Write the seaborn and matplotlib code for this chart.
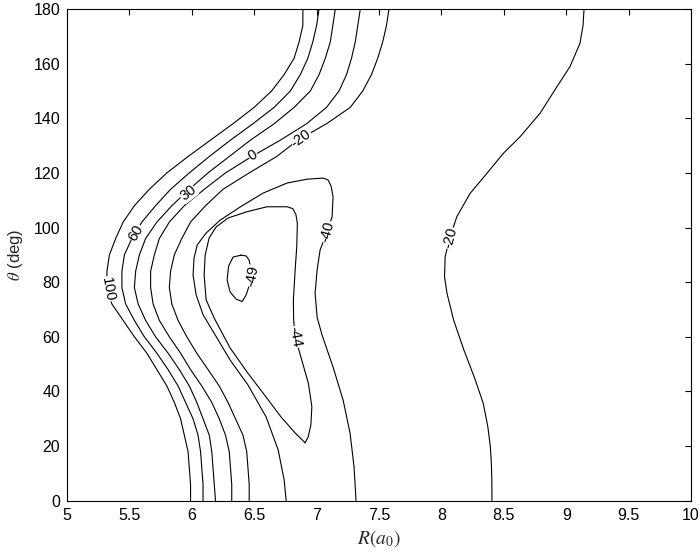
import matplotlib
matplotlib.use("Agg")
import matplotlib.pyplot as plt
import seaborn as sns
import pandas as pd

# ---------------- data ----------------
# angle grid (deg) for the contours that are single valued in theta
THETA_GRID = [0, 6, 12, 18, 24, 30, 36, 42, 48, 54, 60, 66, 72, 78, 84, 90,
              96, 102, 108, 114, 120, 126, 132, 138, 144, 150, 156, 162, 168, 174, 180]

R_100 = [5.99, 5.99, 5.98, 5.97, 5.94, 5.91, 5.86, 5.80, 5.72, 5.64, 5.54, 5.45, 5.36, 5.32, 5.32, 5.34,
         5.39, 5.45, 5.54, 5.66, 5.80, 5.97, 6.15, 6.33, 6.50, 6.64, 6.74, 6.82, 6.86, 6.89, 6.89]
R_60 = [6.09, 6.09, 6.08, 6.07, 6.05, 6.01, 5.95, 5.89, 5.81, 5.72, 5.62, 5.54, 5.47, 5.44, 5.44, 5.46,
        5.52, 5.60, 5.71, 5.83, 5.98, 6.14, 6.31, 6.49, 6.66, 6.79, 6.87, 6.93, 6.97, 7.00, 7.02]
R_30 = [6.19, 6.18, 6.17, 6.16, 6.14, 6.09, 6.04, 5.98, 5.90, 5.81, 5.71, 5.63, 5.57, 5.54, 5.55, 5.58,
        5.63, 5.72, 5.84, 5.98, 6.13, 6.30, 6.47, 6.66, 6.82, 6.95, 7.02, 7.07, 7.11, 7.13, 7.15]
R_0 = [6.32, 6.32, 6.31, 6.30, 6.27, 6.22, 6.16, 6.08, 5.99, 5.91, 5.82, 5.74, 5.69, 5.67, 5.67, 5.70,
       5.74, 5.82, 5.94, 6.10, 6.27, 6.48, 6.71, 6.92, 7.08, 7.18, 7.24, 7.28, 7.31, 7.33, 7.35]
R_M20_IN = [6.46, 6.46, 6.45, 6.44, 6.41, 6.35, 6.29, 6.22, 6.13, 6.04, 5.96, 5.89, 5.84, 5.82, 5.83, 5.86,
            5.92, 5.99, 6.11, 6.25, 6.46, 6.68, 6.85, 7.08, 7.27, 7.37, 7.44, 7.49, 7.53, 7.56, 7.58]

# outer -20 contour
THETA_M20_OUT = [0, 8, 14, 19.8, 27.1, 35.7, 45.4, 55.2, 66.1, 75.9, 82, 89.3, 96, 104, 112.5,
                 119.8, 127.2, 133.2, 141.8, 151.5, 158.9, 167.4, 174, 180]
R_M20_OUT = [8.405, 8.404, 8.400, 8.392, 8.372, 8.335, 8.262, 8.180, 8.098, 8.045, 8.025, 8.030, 8.065,
             8.124, 8.23, 8.364, 8.497, 8.63, 8.79, 8.925, 9.03, 9.11, 9.135, 9.143]

# -40 contour (arch open at theta = 0)
R_M40 = [6.756, 6.740, 6.692, 6.596, 6.451, 6.307, 6.187, 6.091, 6.035, 6.010, 6.018, 6.043, 6.115,
         6.227, 6.387, 6.571, 6.764, 6.924, 7.052, 7.092, 7.116, 7.132, 7.124, 7.084, 7.028, 7.004,
         6.988, 7.004, 7.044, 7.132, 7.212, 7.268, 7.300, 7.316]
THETA_M40 = [0, 7.6, 18.6, 30.6, 42.3, 51.5, 60.7, 68.0, 75.3, 82.6, 88.8, 93.6, 98.0,
             102.7, 107.5, 112.6, 116.3, 117.7, 118.1, 117.4, 115.2, 111.2, 103.9, 98.4, 91.8, 84.4,
             76.0, 67.2, 60.6, 48.9, 36.9, 24.8, 12.4, 0]

# -44 closed contour
R_M44 = [6.908, 6.828, 6.716, 6.571, 6.443, 6.307, 6.179, 6.115, 6.099, 6.107, 6.139, 6.195, 6.291,
         6.443, 6.603, 6.764, 6.810, 6.834, 6.846, 6.841, 6.828, 6.814, 6.816, 6.828, 6.881, 6.934,
         6.962, 6.954, 6.932, 6.908]
THETA_M44 = [21.2, 24.8, 30.6, 39.4, 47.1, 55.9, 66.9, 73.5, 82.6, 89.9, 96.2, 100.2, 103.5,
             105.8, 107.6, 107.6, 106.9, 104.8, 101.5, 93.0, 84.4, 73.5, 66.2, 59.9, 51.5, 43.0,
             34.4, 27.7, 23.3, 21.2]

# -49 closed contour (well bottom)
R_M49 = [6.395, 6.331, 6.295, 6.283, 6.307, 6.355, 6.403, 6.435, 6.467, 6.475, 6.459, 6.435, 6.395]
THETA_M49 = [89.9, 89.2, 85.9, 80.8, 76.4, 73.8, 72.9, 75.3, 79.7, 84.4, 88.1, 89.6, 89.9]

# contour labels: text, R, theta, rotation
LABEL_TEXT = ["100", "60", "30", "0", "-20", "-40", "-44", "-49", "-20"]
LABEL_R = [5.33, 5.55, 5.97, 6.49, 6.876, 7.084, 6.828, 6.483, 8.07]
LABEL_THETA = [77.5, 98.2, 112.6, 126.4, 132.7, 98.4, 59.9, 82.3, 96.1]
LABEL_ROT = [-80, 60, 38, 33, 35, 75, -80, 80, 75]

X_TICKS = [5, 5.5, 6, 6.5, 7, 7.5, 8, 8.5, 9, 9.5, 10]
X_TICK_LABELS = ["5", "5.5", "6", "6.5", "7", "7.5", "8", "8.5", "9", "9.5", "10"]
Y_TICKS = [0, 20, 40, 60, 80, 100, 120, 140, 160, 180]

# ---------------- build table of contour paths ----------------
frames = []
def add(name, r, th):
    frames.append(pd.DataFrame({"curve": name, "R": r, "theta": th, "order": range(len(r))}))

add("100", R_100, THETA_GRID)
add("60", R_60, THETA_GRID)
add("30", R_30, THETA_GRID)
add("0", R_0, THETA_GRID)
add("-20 inner", R_M20_IN, THETA_GRID)
add("-20 outer", R_M20_OUT, THETA_M20_OUT)
add("-40", R_M40, THETA_M40)
add("-44", R_M44, THETA_M44)
add("-49", R_M49, THETA_M49)
df = pd.concat(frames, ignore_index=True)

# ---------------- style ----------------
sns.set_theme(style="white")
plt.rcParams["font.family"] = ["Liberation Sans", "DejaVu Sans"]
plt.rcParams["mathtext.fontset"] = "stix"
plt.rcParams["xtick.direction"] = "in"
plt.rcParams["ytick.direction"] = "in"

fig = plt.figure(figsize=(7.0, 5.6), dpi=100)
ax = fig.add_axes([67 / 700, 1 - 500.7 / 560, (691 - 67) / 700, (500.7 - 9) / 560])

for name, sub in df.groupby("curve", sort=False):
    sns.lineplot(data=sub, x="R", y="theta", sort=False, estimator=None,
                 color="black", linewidth=0.8, ax=ax, legend=False)

for t, r, th, rot in zip(LABEL_TEXT, LABEL_R, LABEL_THETA, LABEL_ROT):
    ax.text(r, th, t, rotation=rot, rotation_mode="anchor", ha="center", va="center",
            fontsize=10.5, color="black", zorder=5,
            bbox=dict(facecolor="white", edgecolor="none", pad=0.3))

ax.set_xlim(5, 10)
ax.set_ylim(0, 180)
ax.set_xticks(X_TICKS)
ax.set_xticklabels(X_TICK_LABELS)
ax.set_yticks(Y_TICKS)
ax.tick_params(axis="both", which="both", direction="in", length=4.5, width=0.8,
               top=True, right=True, labelsize=11.5, colors="black", pad=5)
for s in ax.spines.values():
    s.set_visible(True)
    s.set_color("black")
    s.set_linewidth(0.8)

ax.set_xlabel(r"$R(a_0)$", fontsize=14, labelpad=4)
ax.set_ylabel(r"$\theta$ (deg)", fontsize=12, labelpad=6)
ax.grid(False)

fig.savefig("out.png", dpi=100, facecolor="white")
